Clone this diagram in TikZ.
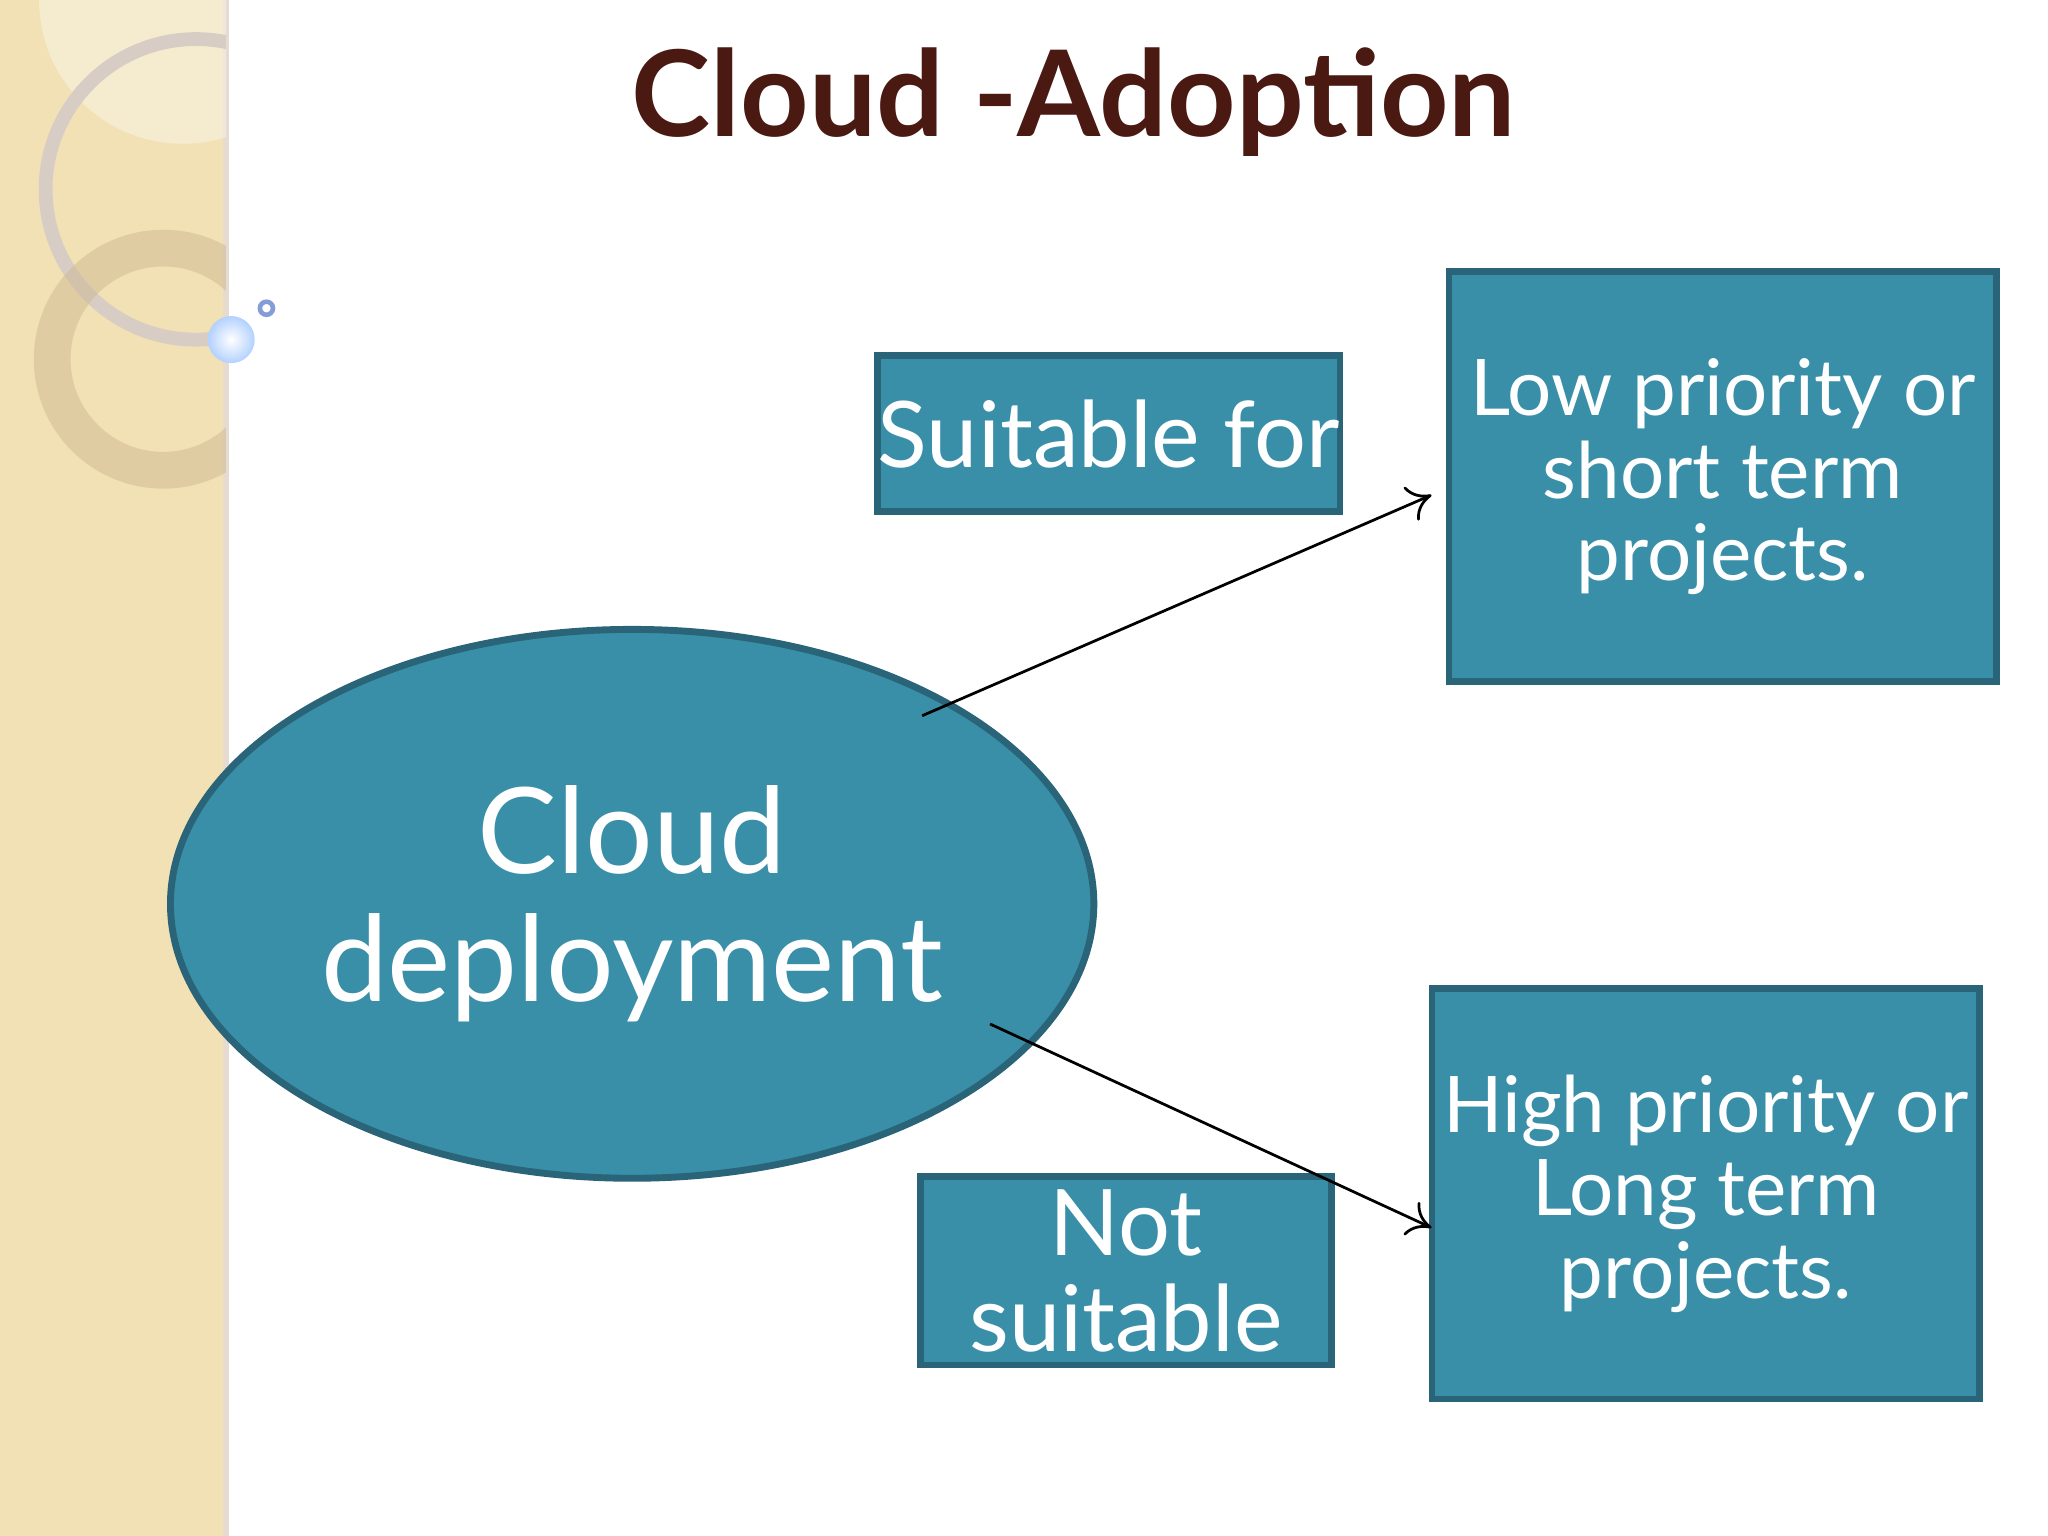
\documentclass[tikz,border=0pt]{standalone}
\usepackage{fontspec}
\setmainfont{Lato}
\usetikzlibrary{shapes.geometric,arrows.meta}
\definecolor{teal}{HTML}{3A8FA8}
\definecolor{tealdark}{HTML}{2A6478}
\definecolor{beige}{HTML}{F1E1B4}
\definecolor{brown}{HTML}{4A1A12}
\tikzset{
 box/.style={draw=tealdark,line width=1.5pt,fill=teal,text=white,align=center,inner sep=0pt},
 conn/.style={-{To[length=5pt,width=8pt]},line width=0.6pt}
}
\begin{document}
\begin{tikzpicture}[x=0.01cm,y=-0.01cm]
\useasboundingbox (0,0) rectangle (1568,1176);
\fill[white] (0,0) rectangle (1568,1176);
\fill[beige] (0,0) rectangle (173,1176);
\draw[beige!70!brown!40,line width=1.2pt] (173,0) -- (173,1176);
\begin{scope}
\clip (0,0) rectangle (173,1176);
\fill[white,opacity=0.35] (140,0) circle (1.1cm);
\draw[white!80!beige!80!brown,line width=3pt] (150,145) circle (1.15cm);
\draw[beige!80!brown,line width=8pt,opacity=0.5] (125,275) circle (0.85cm);
\end{scope}
\shade[inner color=white,outer color=cyan!40!blue!30] (177,260) circle (0.18cm);
\draw[cyan!40!blue!50,line width=1pt] (204,236) circle (0.05cm);
\node[font=\fontsize{26pt}{30pt}\selectfont\bfseries,text=brown] (t) at (822,78) {Cloud -Adoption};
\node[ellipse,draw=tealdark,line width=1.5pt,fill=teal,minimum width=5.76cm,minimum height=4.2cm,text=white,align=center,font=\fontsize{26pt}{28pt}\selectfont] (e) at (484,692) {Cloud\\deployment};
\node[box,minimum width=3.4cm,minimum height=1.19cm,font=\fontsize{20pt}{24pt}\selectfont] (s) at (849,332) {Suitable for};
\node[box,minimum width=4.19cm,minimum height=3.14cm,font=\fontsize{17pt}{18pt}\selectfont] (l) at (1319,365) {Low priority or\\short term\\projects.};
\node[box,minimum width=4.19cm,minimum height=3.14cm,font=\fontsize{17pt}{18pt}\selectfont] (h) at (1306,914) {High priority or\\Long term\\projects.};
\node[box,minimum width=3.14cm,minimum height=1.44cm,font=\fontsize{20pt}{21pt}\selectfont] (n) at (862,973) {Not\\suitable};
\coordinate (a1) at (706,548);
\coordinate (b1) at (1096,379);
\coordinate (a2) at (758,784);
\coordinate (b2) at (1096,940);
\draw[conn] (a1) -- (b1);
\draw[conn] (a2) -- (b2);
\end{tikzpicture}
\end{document}
